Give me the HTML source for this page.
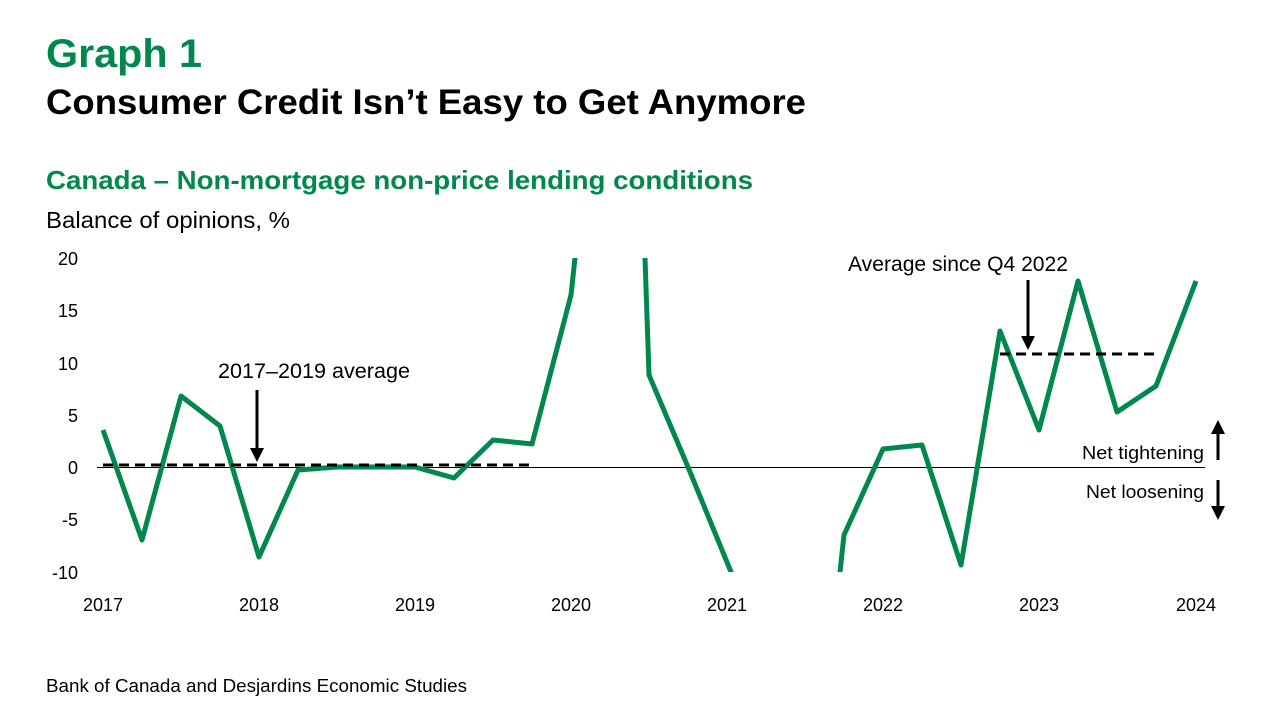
<!DOCTYPE html>
<html><head><meta charset="utf-8"><style>
body{margin:0;width:1280px;height:720px;background:#fff;font-family:"Liberation Sans",sans-serif;overflow:hidden}
</style></head><body>
<svg width="1280" height="720" xmlns="http://www.w3.org/2000/svg" font-family="Liberation Sans, sans-serif">
<text x="46" y="67" font-size="40" font-weight="bold" fill="#00874E" textLength="156" lengthAdjust="spacingAndGlyphs">Graph 1</text>
<text x="46" y="114" font-size="35" font-weight="bold" fill="#000" textLength="760" lengthAdjust="spacingAndGlyphs">Consumer Credit Isn’t Easy to Get Anymore</text>
<text x="46" y="189" font-size="26" font-weight="bold" fill="#00874E" textLength="707" lengthAdjust="spacingAndGlyphs">Canada – Non-mortgage non-price lending conditions</text>
<text x="46" y="228" font-size="23" fill="#000" textLength="244" lengthAdjust="spacingAndGlyphs">Balance of opinions, %</text>
<g font-size="18" fill="#000" text-anchor="end">
<text x="78" y="265">20</text><text x="78" y="317">15</text><text x="78" y="370">10</text>
<text x="78" y="422">5</text><text x="78" y="474">0</text><text x="78" y="526">-5</text><text x="78" y="579">-10</text>
</g>
<g font-size="18" fill="#000" text-anchor="middle">
<text x="103" y="611">2017</text><text x="259" y="611">2018</text><text x="415" y="611">2019</text>
<text x="571" y="611">2020</text><text x="727" y="611">2021</text><text x="883" y="611">2022</text>
<text x="1039" y="611">2023</text><text x="1196" y="611">2024</text>
</g>
<line x1="97" y1="467.5" x2="1205" y2="467.5" stroke="#000" stroke-width="1"/>
<defs><clipPath id="c"><rect x="90" y="258" width="1150" height="314"/></clipPath></defs>
<polyline clip-path="url(#c)" fill="none" stroke="#00874E" stroke-width="5" stroke-linejoin="round" points="103,430 142,540 181,396 220,426 259,557 298,470 337,467 376,467 415,467 454,478 493,440 532,444 571,295 575,258 580,200 640,200 645,258 649,375 688,467 731,572 740,620 836,620 840,572 844,535 883,449 922,445 961,565 1000,331 1039,430 1078,281 1117,412 1156,386 1196,281"/>
<line x1="103" y1="465" x2="532" y2="465" stroke="#000" stroke-width="3" stroke-dasharray="10,6"/>
<line x1="1000" y1="354" x2="1160" y2="354" stroke="#000" stroke-width="3" stroke-dasharray="10,6"/>
<text x="218" y="378" font-size="21" fill="#000" textLength="192" lengthAdjust="spacingAndGlyphs">2017–2019 average</text>
<line x1="257" y1="390" x2="257" y2="450" stroke="#000" stroke-width="3"/><polygon points="250,448 264,448 257,462" fill="#000"/>
<text x="848" y="271" font-size="21" fill="#000" textLength="220" lengthAdjust="spacingAndGlyphs">Average since Q4 2022</text>
<line x1="1028" y1="280" x2="1028" y2="338" stroke="#000" stroke-width="3"/><polygon points="1021,336 1035,336 1028,350" fill="#000"/>
<text x="1204" y="459" font-size="18" fill="#000" text-anchor="end" textLength="122" lengthAdjust="spacingAndGlyphs">Net tightening</text>
<text x="1204" y="498" font-size="18" fill="#000" text-anchor="end" textLength="118" lengthAdjust="spacingAndGlyphs">Net loosening</text>
<line x1="1218" y1="432" x2="1218" y2="460" stroke="#000" stroke-width="3"/><polygon points="1211,434 1225,434 1218,420" fill="#000"/>
<line x1="1218" y1="480" x2="1218" y2="508" stroke="#000" stroke-width="3"/><polygon points="1211,506 1225,506 1218,520" fill="#000"/>
<text x="46" y="692" font-size="18" fill="#000" textLength="421" lengthAdjust="spacingAndGlyphs">Bank of Canada and Desjardins Economic Studies</text>
</svg>
</body></html>
